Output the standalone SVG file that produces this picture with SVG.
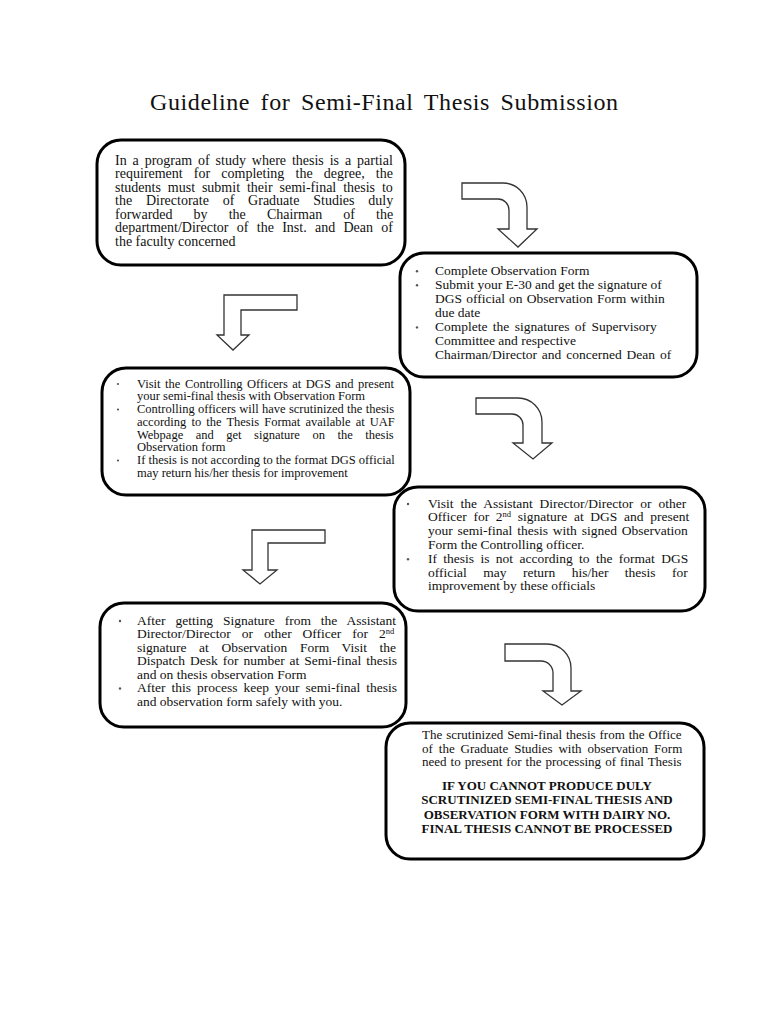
<svg xmlns="http://www.w3.org/2000/svg" width="768" height="1024" viewBox="0 0 768 1024">
<style>
.bg{fill:#fff}
.box{fill:#fff;stroke:#000;stroke-width:3}
.t{font-family:"Liberation Serif","Times New Roman",serif;fill:#111}
.f14{font-size:14px}
.f135{font-size:13.5px}
.f125{font-size:12.5px}
.f13{font-size:13px}
.bold{font-weight:bold;text-anchor:middle}
.title{font-family:"Liberation Serif","Times New Roman",serif;font-size:24px;fill:#111;text-anchor:middle}
.arrow{fill:#fff;stroke:#333;stroke-width:1.3;stroke-linejoin:miter}
.bul{fill:#555}
</style>
<rect class="bg" x="0" y="0" width="768" height="1024"/>
<g id="title">
<text class="title" x="384" y="110" word-spacing="4" textLength="468" lengthAdjust="spacing">Guideline for Semi-Final Thesis Submission</text>
</g>
<g id="connectors">
<path class="arrow" d="M462,183 H503 A24,24 0 0 1 527,207 V229 H537 L518,247 L498,229 H509 V210 A11,11 0 0 0 498,199 H462 Z"/>
<path class="arrow" d="M297,295 H224 V335 H217 L233,350 L249,335 H241 V310 H297 Z"/>
<path class="arrow" d="M476,398 H518 A24,24 0 0 1 542,422 V443 H552 L533,459 L513,443 H523 V425 A11,11 0 0 0 512,414 H476 Z"/>
<path class="arrow" d="M325,530 H252 V570 H243 L260,584 L277,570 H268 V543 H325 Z"/>
<path class="arrow" d="M505,644 H547 A24,24 0 0 1 571,668 V691 H581 L562,705 L543,691 H553 V673 A12,12 0 0 0 541,661 H505 Z"/>
</g>
<g id="node1">
<rect class="box" x="97" y="140" width="308" height="125" rx="24"/>
<g class="t f14">
<text x="115" y="164.8" word-spacing="2.4">In a program of study where thesis is a partial</text>
<text x="115" y="178.3" word-spacing="7.7">requirement for completing the degree, the</text>
<text x="115" y="191.8" word-spacing="3.4">students must submit their semi-final thesis to</text>
<text x="115" y="205.3" word-spacing="10.3">the Directorate of Graduate Studies duly</text>
<text x="115" y="218.8" word-spacing="17.6">forwarded by the Chairman of the</text>
<text x="115" y="232.3" word-spacing="4.8">department/Director of the Inst. and Dean of</text>
<text x="115" y="245.8">the faculty concerned</text>
</g>
</g>
<g id="node2">
<rect class="box" x="400" y="253" width="297" height="124" rx="24"/>
<g class="bul">
<circle cx="417" cy="271.2" r="1.2"/>
<circle cx="417" cy="285.3" r="1.2"/>
<circle cx="417" cy="327.4" r="1.2"/>
</g>
<g class="t f135">
<text x="435" y="274.7">Complete Observation Form</text>
<text x="435" y="288.8">Submit your E-30 and get the signature of</text>
<text x="435" y="302.8" word-spacing="0.8">DGS official on Observation Form within</text>
<text x="435" y="316.9">due date</text>
<text x="435" y="330.9" word-spacing="2">Complete the signatures of Supervisory</text>
<text x="435" y="345">Committee and respective</text>
<text x="435" y="359" word-spacing="1.5">Chairman/Director and concerned Dean of</text>
</g>
</g>
<g id="node3">
<rect class="box" x="102" y="368" width="308" height="127" rx="24"/>
<g class="bul">
<circle cx="118" cy="384" r="1.1"/>
<circle cx="118" cy="409.5" r="1.1"/>
<circle cx="118" cy="460.5" r="1.1"/>
</g>
<g class="t f125">
<text x="137" y="387.5" word-spacing="1.4">Visit the Controlling Officers at DGS and present</text>
<text x="137" y="400.3">your semi-final thesis with Observation Form</text>
<text x="137" y="413" word-spacing="0.2">Controlling officers will have scrutinized the thesis</text>
<text x="137" y="425.8" word-spacing="2">according to the Thesis Format available at UAF</text>
<text x="137" y="438.5" word-spacing="9.4">Webpage and get signature on the thesis</text>
<text x="137" y="451.3">Observation form</text>
<text x="137" y="464">If thesis is not according to the format DGS official</text>
<text x="137" y="476.8">may return his/her thesis for improvement</text>
</g>
</g>
<g id="node4">
<rect class="box" x="394" y="487" width="311" height="124" rx="24"/>
<g class="bul">
<circle cx="408" cy="504" r="1.2"/>
<circle cx="408" cy="559.2" r="1.2"/>
</g>
<g class="t f135">
<text x="428" y="507.5" word-spacing="3.6">Visit the Assistant Director/Director or other</text>
<text x="428" y="521.3" word-spacing="3.3">Officer for 2<tspan dy="-4.5" font-size="8.5">nd</tspan><tspan dy="4.5"> signature at DGS and present</tspan></text>
<text x="428" y="535.1" word-spacing="1.5">your semi-final thesis with signed Observation</text>
<text x="428" y="548.9">Form the Controlling officer.</text>
<text x="428" y="562.7" word-spacing="3">If thesis is not according to the format DGS</text>
<text x="428" y="576.5" word-spacing="13.1">official may return his/her thesis for</text>
<text x="428" y="590.3">improvement by these officials</text>
</g>
</g>
<g id="node5">
<rect class="box" x="100" y="603" width="306" height="124" rx="24"/>
<g class="bul">
<circle cx="120" cy="621" r="1.2"/>
<circle cx="120" cy="688.5" r="1.2"/>
</g>
<g class="t f135">
<text x="137" y="624.5" word-spacing="6.6">After getting Signature from the Assistant</text>
<text x="137" y="638" word-spacing="7.6">Director/Director or other Officer for 2<tspan dy="-4.5" font-size="8.5">nd</tspan></text>
<text x="137" y="651.5" word-spacing="9.2">signature at Observation Form Visit the</text>
<text x="137" y="665" word-spacing="1.6">Dispatch Desk for number at Semi-final thesis</text>
<text x="137" y="678.5">and on thesis observation Form</text>
<text x="137" y="692" word-spacing="2.6">After this process keep your semi-final thesis</text>
<text x="137" y="705.5">and observation form safely with you.</text>
</g>
</g>
<g id="node6">
<rect class="box" x="386" y="723" width="318" height="136" rx="24"/>
<g class="t f13">
<text x="422" y="739" word-spacing="0.7">The scrutinized Semi-final thesis from the Office</text>
<text x="422" y="752.5" word-spacing="2.7">of the Graduate Studies with observation Form</text>
<text x="422" y="766" word-spacing="0.8">need to present for the processing of final Thesis</text>
<text class="bold" x="547" y="789.5">IF YOU CANNOT PRODUCE DULY</text>
<text class="bold" x="547" y="804">SCRUTINIZED SEMI-FINAL THESIS AND</text>
<text class="bold" x="547" y="818.5">OBSERVATION FORM WITH DAIRY NO.</text>
<text class="bold" x="547" y="833">FINAL THESIS CANNOT BE PROCESSED</text>
</g>
</g>
</svg>
